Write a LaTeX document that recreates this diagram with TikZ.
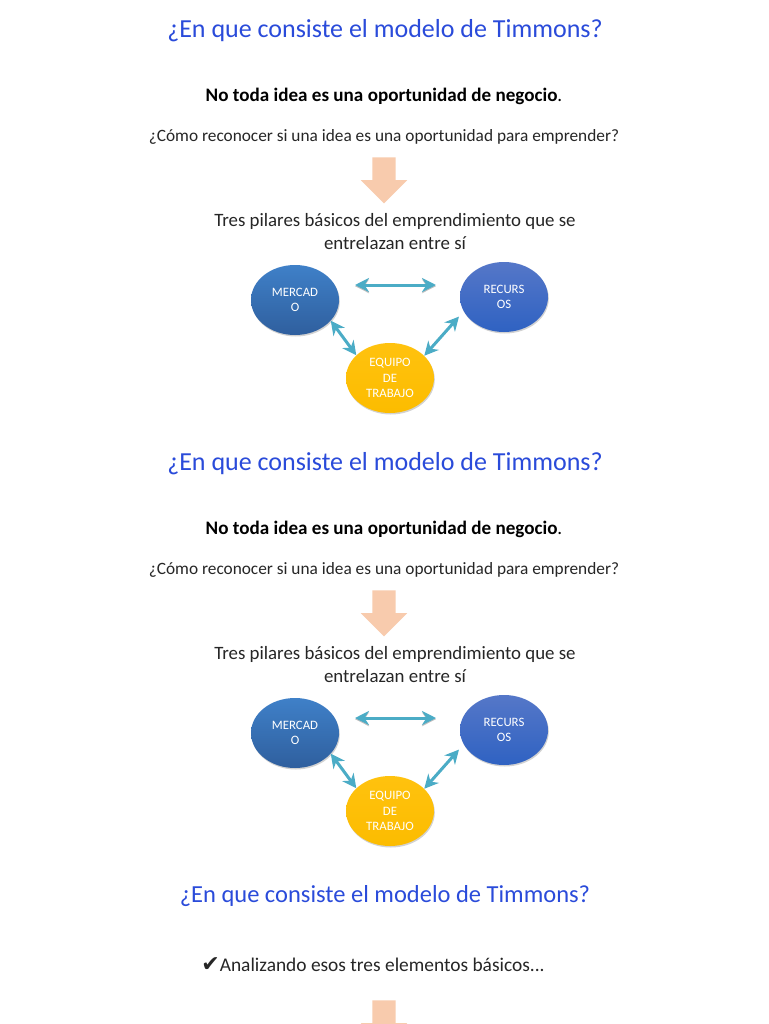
\documentclass[tikz,border=0pt]{standalone}
\usepackage{fontspec}
\setmainfont{Carlito}
\newfontfamily\dejavu{DejaVu Sans}
\usetikzlibrary{shapes.arrows,shapes.geometric,shadows,arrows.meta}
\definecolor{titleblue}{HTML}{2A4BDA}
\definecolor{peach}{HTML}{F8CBAD}
\definecolor{tealarrow}{HTML}{4BACC6}
\definecolor{mercadotop}{HTML}{3F80C8}
\definecolor{mercadobot}{HTML}{2F5F9E}
\definecolor{recursostop}{HTML}{5577C8}
\definecolor{recursosbot}{HTML}{2F62C2}
\definecolor{equipotop}{HTML}{FFC20E}
\definecolor{equipobot}{HTML}{FCBC00}
\tikzset{
    title/.style = {text=titleblue, font=\fontsize{26}{28}\selectfont, inner sep=0pt},
    title-small/.style = {text=titleblue, font=\fontsize{24.5}{28}\selectfont, inner sep=0pt},
    lead/.style = {text=black, font=\fontsize{19.1}{24}\selectfont, inner sep=0pt},
    body/.style = {text=black!85, font=\fontsize{17.3}{24}\selectfont, inner sep=0pt, align=center},
    peach-arrow/.style = {single arrow, fill=peach, rotate=-90, minimum height=46pt, minimum width=46pt, single arrow head extend=11.5pt, single arrow head indent=0pt, inner xsep=0pt, inner ysep=11.5pt},
    pillar/.style = {ellipse, minimum width=88pt, minimum height=70pt, inner sep=0pt, align=center, text=white, font=\fontsize{12.8}{15.5}\selectfont, drop shadow={shadow xshift=0.8pt, shadow yshift=-1.5pt, opacity=0.35}},
    link/.style = {tealarrow, line width=3pt, {Stealth[length=14pt,width=14pt]}-{Stealth[length=14pt,width=14pt]}},
}

\begin{document}
\begin{tikzpicture}[x=1pt,y=-1pt]
\useasboundingbox[fill=white] (0,0) rectangle (768,1024);

% the same slide twice
\foreach \s/\dy in {a/0,b/433}{
\begin{scope}[yshift=-\dy pt]
\node [title] (title\s) at (385,30.5) {¿En que consiste el modelo de Timmons?};
\node [lead] (lead\s) at (384,96) {\textbf{No toda idea es una oportunidad de negocio}.};
\node [body] (question\s) at (384,137) {¿Cómo reconocer si una idea es una oportunidad para emprender?};
\node [peach-arrow] (arrow\s) at (384,174.5) {};
\node [body, font=\fontsize{18.85}{23.5}\selectfont] (pillars\s) at (395,231.5) {Tres pilares básicos del emprendimiento que se\\entrelazan entre sí};
\node [pillar, top color=mercadotop, bottom color=mercadobot] (mercado\s) at (295,300) {MERCAD\\O};
\node [pillar, top color=recursostop, bottom color=recursosbot] (recursos\s) at (504,297) {RECURS\\OS};
\node [pillar, top color=equipotop, bottom color=equipobot] (equipo\s) at (390,378) {EQUIPO\\DE\\TRABAJO};
\coordinate (left\s) at (355,285);
\coordinate (right\s) at (436,285);
\draw [link, preaction={draw=black!25, transform canvas={yshift=-1.2pt}}] (left\s) -- (right\s);
\draw [link] (mercado\s.-30) -- (equipo\s.146);
\draw [link] ([shift={(-6,3)}]recursos\s.203) -- (equipo\s.33);
\end{scope}
}

\node [title-small] (titlec) at (385,896.5) {¿En que consiste el modelo de Timmons?};
\node [body, font=\fontsize{19.4}{24}\selectfont] (analysis) at (373,965) {{\dejavu\fontsize{22}{24}\selectfont ✔}Analizando esos tres elementos básicos...};
\node [peach-arrow] (arrowc) at (384,1017.5) {};
\end{tikzpicture}
\end{document}
